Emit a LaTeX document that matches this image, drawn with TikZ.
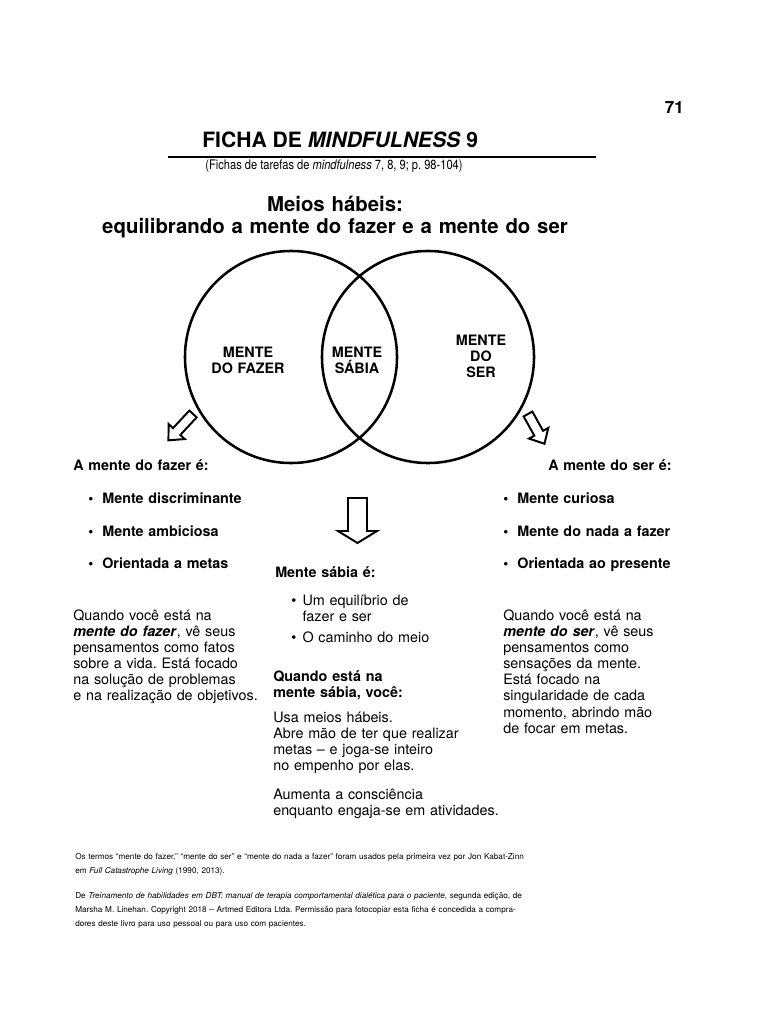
\documentclass[tikz,border=0pt]{standalone}
\usepackage{fontspec}
\setmainfont{TeX Gyre Heros}
\newfontfamily\narrowfont[FakeStretch=0.84]{TeX Gyre Heros}
\frenchspacing

% open (hollow) arrow: position, angle, length, half shaft, half head, head length
\newcommand{\openarrow}[6]{%
  \draw[openarrow, shift={#1}, rotate=#2] (0,#4) -- ({#3-#6},#4) -- ({#3-#6},#5) -- (#3,0)
    -- ({#3-#6},-#5) -- ({#3-#6},-#4) -- (0,-#4) -- cycle;}

\begin{document}
\begin{tikzpicture}[x=0.025cm, y=-0.025cm,
    body/.style={inner sep=0pt, anchor=base west, align=left, text width=6cm,
      font=\fontsize{10.2}{11.5}\selectfont},
    bodybf/.style={body, font=\fontsize{10.2}{12}\selectfont\bfseries},
    vennlabel/.style={inner sep=0pt, anchor=base, align=center, text width=3cm,
      font=\fontsize{10.2}{11.4}\selectfont\bfseries},
    venn/.style={draw, circle, line width=1.8pt, minimum size=5.3cm, inner sep=0pt},
    note/.style={inner sep=0pt, anchor=base west, align=left, text width=12cm,
      font=\fontsize{5.8}{10}\selectfont},
    openarrow/.style={line width=1.4pt, line join=miter}]
  \useasboundingbox (0,0) rectangle (768,1024);

  % header
  \node[anchor=base east, inner sep=0pt, font=\fontsize{12}{14}\selectfont\bfseries] (page) at (684,114) {71};
  \node[anchor=base west, inner sep=0pt, font=\fontsize{15}{18}\selectfont\bfseries] (title) at (202,148)
    {FICHA DE \textit{MINDFULNESS} 9};
  \draw[line width=0.8pt] (168,157) -- (596,157);
  \node[anchor=base, inner sep=0pt, font=\narrowfont\fontsize{9.4}{11}\selectfont] (sub) at (334,170)
    {(Fichas de tarefas de \textit{mindfulness} 7, 8, 9; p. 98-104)};
  \node[anchor=base, inner sep=0pt, align=center, text width=12cm,
    font=\fontsize{14.5}{15.6}\selectfont\bfseries] (heading) at (335,212)
    {Meios hábeis:\\ equilibrando a mente do fazer e a mente do ser};

  % venn
  \node[venn] (fazer) at (291,357) {};
  \node[venn] (ser) at (428,357) {};
  \node[vennlabel] (lfazer) at (248,357) {MENTE\\DO FAZER};
  \node[vennlabel] (lsabia) at (357,357) {MENTE\\SÁBIA};
  \node[vennlabel] (lser) at (481,345) {MENTE\\DO\\SER};

  \openarrow{(193,414)}{-133}{36}{5}{11}{12}
  \openarrow{(528,414)}{-61}{34}{5}{11}{12}
  \openarrow{(357.5,498)}{-90}{45}{9.5}{19.5}{12}

  % mente do fazer
  \node[bodybf] (hfazer) at (73,470) {A mente do fazer é:};
  \node[bodybf] (f1) at (88,503) {\makebox[10pt][l]{•}Mente discriminante};
  \node[bodybf] (f2) at (88,536) {\makebox[10pt][l]{•}Mente ambiciosa};
  \node[bodybf] (f3) at (88,568) {\makebox[10pt][l]{•}Orientada a metas};
  \node[body] (pfazer) at (73,620) {Quando você está na\\ \textbf{\textit{mente do fazer}}, vê seus\\
    pensamentos como fatos\\ sobre a vida. Está focado\\ na solução de problemas\\
    e na realização de objetivos.};

  % mente do ser
  \node[bodybf] (hser) at (548,470) {A mente do ser é:};
  \node[bodybf] (r1) at (503,503) {\makebox[10pt][l]{•}Mente curiosa};
  \node[bodybf] (r2) at (503,536) {\makebox[10pt][l]{•}Mente do nada a fazer};
  \node[bodybf] (r3) at (503,568) {\makebox[10pt][l]{•}Orientada ao presente};
  \node[body] (pser) at (503,620) {Quando você está na\\ \textbf{\textit{mente do ser}}, vê seus\\
    pensamentos como\\ sensações da mente.\\ Está focado na\\ singularidade de cada\\
    momento, abrindo mão\\ de focar em metas.};

  % mente sabia
  \node[bodybf] (hsabia) at (275,577) {Mente sábia é:};
  \node[body] (s1) at (291,605) {\makebox[8pt][l]{•}Um equilíbrio de\\ \hspace*{8pt}fazer e ser};
  \node[body] (s2) at (291,642) {\makebox[8pt][l]{•}O caminho do meio};
  \node[bodybf] (qsabia) at (273,681) {Quando está na\\ mente sábia, você:};
  \node[body] (usa) at (273,722) {Usa meios hábeis.\\ Abre mão de ter que realizar\\
    metas -- e joga-se inteiro\\ no empenho por elas.};
  \node[body] (aumenta) at (273,799) {Aumenta a consciência\\ enquanto engaja-se em atividades.};

  % footer
  \node[note] (note1) at (75,859) {Os termos ``mente do fazer,'' ``mente do ser'' e ``mente do nada a fazer'' foram usados pela primeira vez por Jon Kabat-Zinn\\
    em \textit{Full Catastrophe Living} (1990, 2013).};
  \node[note] (note2) at (75,898) {De \textit{Treinamento de habilidades em DBT: manual de terapia comportamental dialética para o paciente}, segunda edição, de\\
    Marsha M. Linehan. Copyright 2018 -- Artmed Editora Ltda. Permissão para fotocopiar esta ficha é concedida a compra-\\
    dores deste livro para uso pessoal ou para uso com pacientes.};
\end{tikzpicture}
\end{document}
